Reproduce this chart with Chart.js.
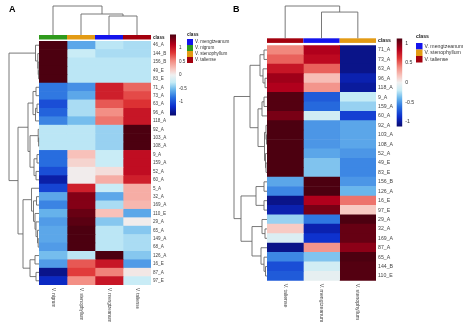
<!DOCTYPE html>
<html>
<head>
<meta charset="utf-8">
<script src="https://cdn.jsdelivr.net/npm/chart.js@4.4.1/dist/chart.umd.min.js"></script>
<style>
  html, body { margin: 0; padding: 0; background: #fff; }
  #wrap { position: relative; width: 474px; height: 330px; }
  canvas { position: absolute; top: 0; }
  #ca { left: 0; }
  #cb { left: 231px; }
</style>
</head>
<body>
<div id="wrap">
  <canvas id="ca" width="231" height="330"></canvas>
  <canvas id="cb" width="243" height="330"></canvas>
</div>
<script>
// ---------- panel A data ----------
const colsA = ['V. nigrum', 'V. stenophyllum', 'V. mengtzeanum', 'V. taliense'];
const rowsA = ['46_A', '144_B', '156_B', '49_E', '83_E', '71_A', '73_A', '63_A', '96_A', '118_A',
  '92_A', '103_A', '108_A', '9_A', '159_A', '52_A', '60_A', '5_A', '32_A', '169_A', '110_E',
  '29_A', '65_A', '149_A', '68_A', '126_A', '16_E', '87_A', '97_E'];
// scaled values, one row per sample, columns in colsA order
const valsA = [
  [1.5, -0.6, -0.3, -0.35], [1.5, -0.25, -0.35, -0.35], [1.5, -0.3, -0.3, -0.3],
  [1.5, -0.3, -0.3, -0.3], [1.5, -0.3, -0.3, -0.3],
  [-0.8, -0.7, 0.95, 0.65], [-0.8, -0.6, 0.95, 0.75], [-1.0, -0.35, 0.7, 0.85],
  [-0.9, -0.35, 0.5, 1.0], [-0.75, -0.5, 0.6, 1.0],
  [-0.3, -0.3, -0.4, 1.5], [-0.3, -0.3, -0.4, 1.5], [-0.3, -0.3, -0.4, 1.5],
  [-0.85, 0.25, -0.25, 1.05], [-0.85, 0.15, -0.25, 1.05], [-1.0, 0.02, 0.1, 1.05],
  [-1.3, 0.02, 0.35, 0.95],
  [-1.05, 0.95, -0.25, 0.35], [-0.6, 1.3, -0.6, 0.35], [-0.75, 1.3, -0.35, 0.3],
  [-0.55, 1.4, 0.25, -0.6], [-0.65, 1.45, -0.45, 0.02], [-0.6, 1.5, -0.3, -0.45],
  [-0.6, 1.5, -0.3, -0.35], [-0.65, 1.5, -0.3, -0.35],
  [-0.5, -0.3, 1.5, -0.45], [-0.65, 0.7, 1.0, -0.65], [-1.4, 0.8, 0.55, 0.05],
  [-1.2, 0.5, 1.0, -0.25]
];
// clustering: [left, right, height]; numbers point to earlier merges
const rowTreeA = [
  ['49_E', '83_E', 0.4], ['156_B', 0, 0.8], ['144_B', 1, 1.2], ['46_A', 2, 3.5],
  ['71_A', '73_A', 3], ['63_A', '96_A', 2], [5, '118_A', 3.5], [4, 6, 6],
  ['103_A', '108_A', 0.4], ['92_A', 8, 0.8], ['9_A', '159_A', 2], ['52_A', '60_A', 3],
  [10, 11, 5], [9, 12, 9], [7, 13, 11],
  ['149_A', '68_A', 0.8], ['65_A', 15, 1.5], ['29_A', 16, 3], ['110_E', 17, 4],
  ['32_A', '169_A', 2.5], [19, 18, 5.5], ['5_A', 20, 7.5],
  ['126_A', '16_E', 4], ['87_A', '97_E', 3], [22, 23, 9], [21, 24, 16],
  [14, 25, 21], [3, 26, 30]
];
const colTreeA = [
  ['V. mengtzeanum', 'V. taliense', 19], ['V. stenophyllum', 0, 21], ['V. nigrum', 1, 29]
];
const legendA = ['V. mengtzeanum', 'V. nigrum', 'V. stenophyllum', 'V. taliense'];
const cbarTicksA = [1, 0.5, 0, -0.5, -1];

// ---------- panel B data ----------
const colsB = ['V. taliense', 'V. mengtzeanum', 'V. stenophyllum'];
const rowsB = ['71_A', '73_A', '63_A', '96_A', '118_A', '9_A', '159_A', '60_A', '92_A', '103_A',
  '108_A', '52_A', '49_E', '83_E', '156_B', '126_A', '16_E', '97_E', '29_A', '32_A', '169_A',
  '87_A', '65_A', '144_B', '110_E'];
const valsB = [
  [0.4, 0.85, -1.05], [0.5, 0.8, -1.05], [0.75, 0.5, -1.05], [0.9, 0.2, -0.95], [0.85, 0.35, -1.0],
  [1.1, -0.7, -0.2], [1.1, -0.65, -0.3], [1.0, -0.15, -0.8],
  [1.12, -0.5, -0.45], [1.12, -0.5, -0.45], [1.12, -0.5, -0.45], [1.12, -0.45, -0.5],
  [1.12, -0.35, -0.55], [1.12, -0.35, -0.55],
  [-0.45, 1.12, -0.5], [-0.55, 1.12, -0.4], [-1.05, 0.85, 0.45], [-0.95, 1.0, 0.15],
  [-0.3, -0.6, 1.12], [0.15, -0.95, 1.05], [-0.1, -0.85, 1.05],
  [-1.05, 0.35, 0.95], [-0.55, -0.35, 1.12], [-0.75, -0.15, 1.1], [-0.7, -0.05, 1.1]
];
const rowTreeB = [
  ['71_A', '73_A', 3], ['96_A', '118_A', 2], ['63_A', 1, 4], [0, 2, 7],
  ['9_A', '159_A', 3], [4, '60_A', 5], ['103_A', '108_A', 0.5], ['92_A', 6, 1],
  ['49_E', '83_E', 1], ['52_A', 8, 1.5], [7, 9, 2.5], [5, 10, 9], [3, 11, 17],
  ['156_B', '126_A', 3], ['16_E', '97_E', 3], [13, 14, 11],
  ['32_A', '169_A', 2], ['29_A', 16, 5], ['144_B', '110_E', 1.5], ['65_A', 18, 3],
  ['87_A', 19, 6], [17, 20, 15], [15, 21, 26], [12, 22, 33]
];
const colTreeB = [
  ['V. mengtzeanum', 'V. stenophyllum', 26], ['V. taliense', 0, 32]
];
const legendB = ['V. mengtzeanum', 'V. stenophyllum', 'V. taliense'];
const cbarTicksB = [1, 0.5, 0, -0.5, -1];

// ---------- styling ----------
const FONT = '"Liberation Sans", Arial, sans-serif';
const CLASS_COLORS = {
  'V. mengtzeanum': '#1414ec',
  'V. nigrum': '#2f9a1c',
  'V. stenophyllum': '#e39b14',
  'V. taliense': '#a3000e'
};
const PALETTE = [
  [-1.0, '#0a0a6e'], [-0.78, '#0b2ccc'], [-0.55, '#2a72e0'], [-0.35, '#6cb8ec'],
  [-0.18, '#c6ecf6'], [0, '#f0f0f0'], [0.15, '#f8c6bf'], [0.35, '#f28a80'],
  [0.55, '#df3535'], [0.75, '#b5001c'], [1.0, '#4c0010']
];

function hexRgb(h) {
  const n = parseInt(h.slice(1), 16);
  return [(n >> 16) & 255, (n >> 8) & 255, n & 255];
}

function heatColor(v, lim) {
  const t = Math.max(-1, Math.min(1, v / lim));
  for (let i = 1; i < PALETTE.length; i++) {
    if (t <= PALETTE[i][0]) {
      const [t0, c0] = PALETTE[i - 1], [t1, c1] = PALETTE[i];
      const f = (t - t0) / (t1 - t0);
      const a = hexRgb(c0), b = hexRgb(c1);
      return 'rgb(' + a.map((x, k) => Math.round(x + (b[k] - x) * f)).join(',') + ')';
    }
  }
  return PALETTE[PALETTE.length - 1][1];
}

function drawTree(ctx, tree, leafPos, base, top, rowWise) {
  const pos = [], hts = [];
  const P = k => typeof k === 'number' ? pos[k] : leafPos(k);
  const H = k => typeof k === 'number' ? hts[k] : 0;
  const maxH = Math.max(...tree.map(m => m[2]));
  const k = (base - top) / maxH;
  ctx.beginPath();
  tree.forEach(([a, b, h], i) => {
    const pa = P(a), pb = P(b);
    const g = base - h * k, ga = base - H(a) * k, gb = base - H(b) * k;
    if (rowWise) {
      ctx.moveTo(ga, pa); ctx.lineTo(g, pa); ctx.lineTo(g, pb); ctx.lineTo(gb, pb);
    } else {
      ctx.moveTo(pa, ga); ctx.lineTo(pa, g); ctx.lineTo(pb, g); ctx.lineTo(pb, gb);
    }
    pos[i] = (pa + pb) / 2;
    hts[i] = h;
  });
  ctx.stroke();
}

// draws everything around the heatmap cells
function decor(d, lay) {
  return {
    id: 'decor',
    afterDraw(chart) {
      const { ctx, chartArea: ca } = chart;
      const xs = chart.scales.x, ys = chart.scales.y;
      ctx.save();
      ctx.textBaseline = 'middle';
      ctx.textAlign = 'left';

      // panel letter
      ctx.fillStyle = '#000';
      ctx.font = 'bold 9px ' + FONT;
      ctx.fillText(lay.letter, lay.letterX, lay.letterY);

      // class annotation bar
      d.cols.forEach((c, i) => {
        const x0 = xs.getPixelForValue(i), x1 = xs.getPixelForValue(i + 1);
        ctx.fillStyle = CLASS_COLORS[c];
        ctx.fillRect(x0, lay.barTop, x1 - x0, lay.barH);
      });
      ctx.fillStyle = '#222';
      ctx.font = 'bold ' + lay.fs + 'px ' + FONT;
      ctx.fillText('class', ca.right + 2, lay.barTop + lay.barH / 2);

      // row labels
      ctx.font = lay.fs + 'px ' + FONT;
      ctx.fillStyle = '#444';
      d.rows.forEach((r, i) => ctx.fillText(r, ca.right + 2, ys.getPixelForValue(i)));

      // column labels
      d.cols.forEach((c, i) => {
        ctx.save();
        ctx.translate(xs.getPixelForValue(i + 0.5), ca.bottom + 3);
        ctx.rotate(Math.PI / 2);
        ctx.fillText(c, 0, 0);
        ctx.restore();
      });

      // dendrograms
      ctx.strokeStyle = '#6a6a6a';
      ctx.lineWidth = 0.9;
      drawTree(ctx, d.rowTree, n => ys.getPixelForValue(d.rows.indexOf(n)), ca.left, lay.rootX, true);
      drawTree(ctx, d.colTree, n => xs.getPixelForValue(d.cols.indexOf(n) + 0.5), lay.barTop, lay.colTop, false);

      // colour key
      const cb = lay.cb;
      const g = ctx.createLinearGradient(0, cb.top, 0, cb.bottom);
      PALETTE.forEach(([t, c]) => g.addColorStop((1 - t) / 2, c));
      ctx.fillStyle = g;
      ctx.fillRect(cb.x, cb.top, cb.w, cb.bottom - cb.top);
      ctx.fillStyle = '#333';
      const mid = (cb.top + cb.bottom) / 2, half = (cb.bottom - cb.top) / 2;
      d.ticks.forEach(v => ctx.fillText(String(v), cb.x + cb.w + 3, mid - v / d.lim * half));

      // class legend
      const lg = lay.lg;
      ctx.fillStyle = '#222';
      ctx.font = 'bold ' + lay.fs + 'px ' + FONT;
      ctx.fillText('class', lg.x, lg.titleY);
      ctx.font = lay.fs + 'px ' + FONT;
      d.legend.forEach((c, i) => {
        const y0 = lg.top + i * lg.step;
        ctx.fillStyle = CLASS_COLORS[c];
        ctx.fillRect(lg.x, y0, lg.size, lg.step);
        ctx.fillStyle = '#333';
        ctx.fillText(c, lg.x + lg.size + 2, y0 + lg.step / 2);
      });
      ctx.restore();
    }
  };
}

function makeHeatmap(id, d, lay) {
  return new Chart(document.getElementById(id), {
    type: 'bar',
    data: {
      labels: d.rows,
      datasets: d.cols.map((c, ci) => ({
        label: c,
        data: d.rows.map(() => [ci, ci + 1]),
        backgroundColor: cx => heatColor(d.vals[cx.dataIndex][ci], d.lim),
        borderWidth: 0,
        barPercentage: 1,
        categoryPercentage: 1,
        grouped: false
      }))
    },
    options: {
      indexAxis: 'y',
      responsive: false,
      animation: false,
      layout: { padding: lay.pad },
      scales: {
        x: { type: 'linear', min: 0, max: d.cols.length, display: false },
        y: { type: 'category', display: false }
      },
      plugins: { legend: { display: false }, tooltip: { enabled: false } }
    },
    plugins: [decor(d, lay)]
  });
}

makeHeatmap('ca',
  { rows: rowsA, cols: colsA, vals: valsA, lim: 1.5, rowTree: rowTreeA, colTree: colTreeA,
    legend: legendA, ticks: cbarTicksA },
  { letter: 'A', letterX: 9, letterY: 10, fs: 4.6,
    pad: { left: 39, right: 80, top: 41, bottom: 45 },
    barTop: 35, barH: 4.5, rootX: 9, colTop: 6,
    cb: { x: 170, w: 6, top: 34.5, bottom: 115.5 },
    lg: { x: 187, titleY: 35, top: 39, step: 6, size: 6 } });

makeHeatmap('cb',
  { rows: rowsB, cols: colsB, vals: valsB, lim: 1.12, rowTree: rowTreeB, colTree: colTreeB,
    legend: legendB, ticks: cbarTicksB },
  { letter: 'B', letterX: 2, letterY: 10, fs: 5.2,
    pad: { left: 36, right: 98, top: 45.3, bottom: 49.3 },
    barTop: 38.3, barH: 4.6, rootX: 3, colTop: 6,
    cb: { x: 165.7, w: 5.5, top: 38.5, bottom: 126.5 },
    lg: { x: 185, titleY: 37, top: 43, step: 6.5, size: 6.5 } });
</script>
</body>
</html>
